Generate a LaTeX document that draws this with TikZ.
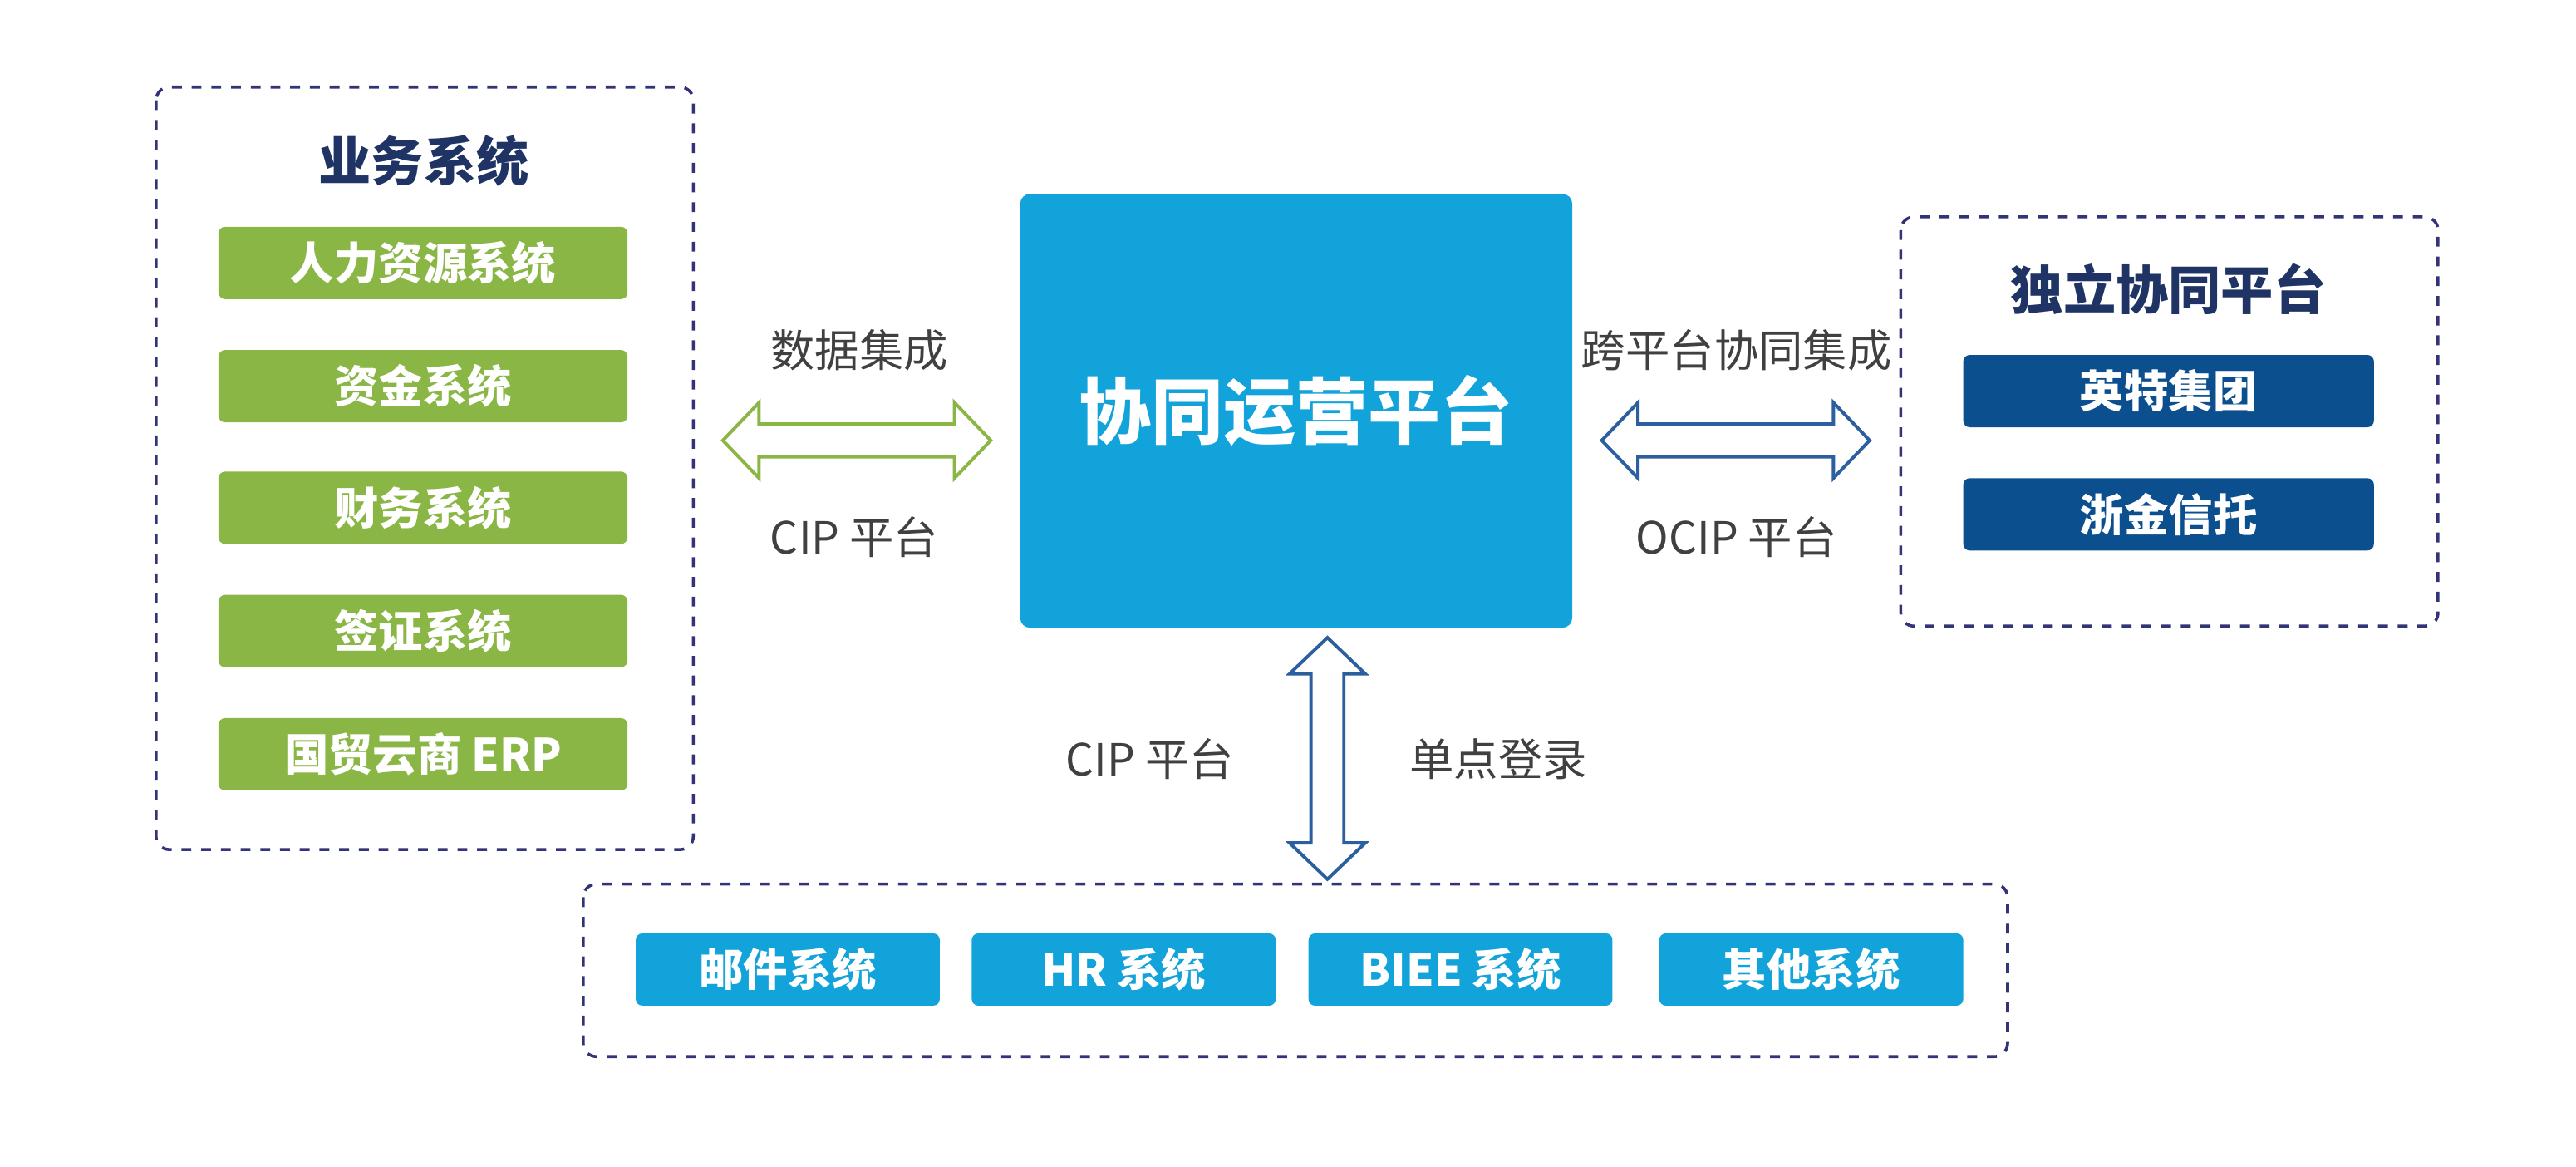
\documentclass[tikz,border=0pt]{standalone}
\usepackage{fontspec}
\setmainfont{Noto Sans CJK SC}
\begin{document}
\begin{tikzpicture}[x=0.5pt,y=-0.5pt,
  dbox/.style={draw=black!55!blue!60!gray,dashed,line width=0.9pt,rounded corners=4pt},
  bx/.style={rounded corners=2pt,minimum height=22pt,text=white,font=\bfseries\fontsize{13.5}{15}\selectfont},
  gbox/.style={bx,fill=green1,minimum width=124.5pt},
  nbox/.style={bx,fill=navy1,minimum width=125pt},
  bbox/.style={bx,fill=cyan1,minimum width=92.5pt},
  ttl/.style={text=title1,font=\bfseries\fontsize{16}{18}\selectfont},
  lbl/.style={text=black!75,font=\fontsize{13.5}{15}\selectfont},
  arr/.style={fill=white,line width=1pt,line join=miter}]
\definecolor{green1}{HTML}{8AB645}
\definecolor{navy1}{HTML}{0B4F8F}
\definecolor{cyan1}{HTML}{12A3DA}
\definecolor{title1}{HTML}{1F3464}
\definecolor{garr}{HTML}{8AB645}
\definecolor{barr}{HTML}{2B5F9E}
\useasboundingbox (0,0) rectangle (1568,710);
% left group
\draw[dbox] (95,53) rectangle (422,517);
\node[ttl] (t1) at (258,98) {业务系统};
\node[gbox] (g1) at (257.5,160) {人力资源系统};
\node[gbox] (g2) at (257.5,235) {资金系统};
\node[gbox] (g3) at (257.5,309) {财务系统};
\node[gbox] (g4) at (257.5,384) {签证系统};
\node[gbox] (g5) at (257.5,459) {国贸云商 ERP};
% center
\node[fill=cyan1,rounded corners=3pt,minimum width=168pt,minimum height=132pt,text=white,font=\bfseries\fontsize{22}{26}\selectfont] (c) at (789,250) {协同运营平台};
% right group
\draw[dbox] (1157,132) rectangle (1484,381);
\node[ttl] (t2) at (1320,176) {独立协同平台};
\node[nbox] (n1) at (1320,238) {英特集团};
\node[nbox] (n2) at (1320,313) {浙金信托};
% bottom group
\draw[dbox] (355,538) rectangle (1222,643);
\node[bbox] (b1) at (479.5,590) {邮件系统};
\node[bbox] (b2) at (684,590) {HR 系统};
\node[bbox] (b3) at (889,590) {BIEE 系统};
\node[bbox] (b4) at (1102.5,590) {其他系统};
% arrows
\draw[arr,draw=garr] (440,268)--(462,245)--(462,258)--(581,258)--(581,245)--(603,268)--(581,291)--(581,278)--(462,278)--(462,291)--cycle;
\draw[arr,draw=barr] (975,268)--(997,245)--(997,258)--(1116,258)--(1116,245)--(1138,268)--(1116,291)--(1116,278)--(997,278)--(997,291)--cycle;
\draw[arr,draw=barr] (808,388)--(831,410)--(818,410)--(818,513)--(831,513)--(808,535)--(785,513)--(798,513)--(798,410)--(785,410)--cycle;
\node[lbl] (l1) at (523,213) {数据集成};
\node[lbl] (l2) at (520,327) {CIP 平台};
\node[lbl] (l3) at (1057,213) {跨平台协同集成};
\node[lbl] (l4) at (1057,327) {OCIP 平台};
\node[lbl] (l5) at (700,462) {CIP 平台};
\node[lbl] (l6) at (912,462) {单点登录};
\end{tikzpicture}
\end{document}
